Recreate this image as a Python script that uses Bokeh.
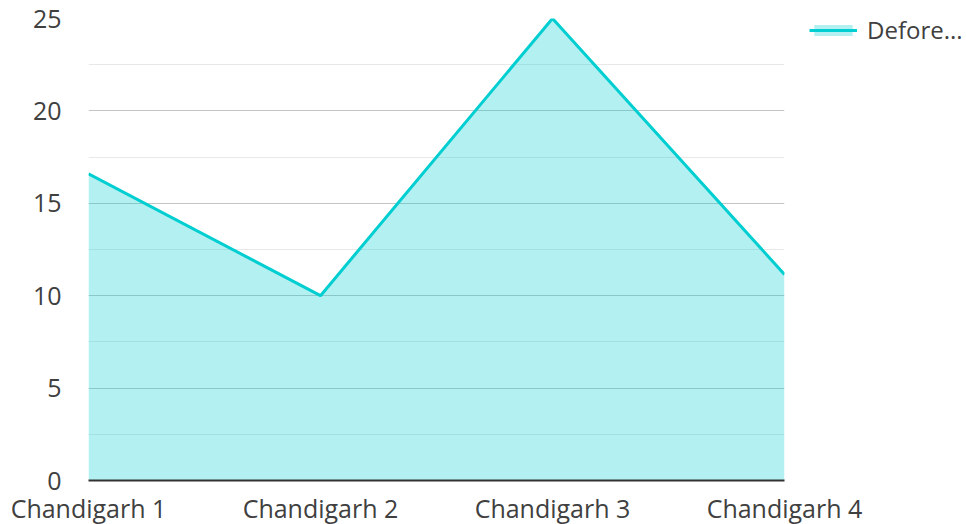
from bokeh.plotting import figure
from bokeh.models import ColumnDataSource, Legend, LegendItem, FixedTicker, Range1d
from bokeh.embed import file_html
from bokeh.resources import INLINE

categories = ["Chandigarh 1", "Chandigarh 2", "Chandigarh 3", "Chandigarh 4"]
values = [16.6, 10.0, 25.0, 11.15]
series_name = "Defore..."
y_ticks = [0, 5, 10, 15, 20, 25]
y_minor = [2.5, 7.5, 12.5, 17.5, 22.5]

xs = list(range(len(categories)))
src = ColumnDataSource(dict(x=xs, y=values, y0=[0] * len(xs)))

FONT = "Open Sans"
TXT = "#404040"
FS = "25px"

p = figure(frame_width=696, frame_height=462, min_border_left=88, min_border_top=18,
           min_border_bottom=44, min_border_right=180,
           output_backend="svg", toolbar_location=None,
           x_range=Range1d(0, len(categories) - 1), y_range=Range1d(0, 25))
p.outline_line_color = None

area = p.varea(x="x", y1="y0", y2="y", source=src, fill_color="#00CED1", fill_alpha=0.3)
line = p.line(x="x", y="y", source=src, line_color="#00CED1", line_width=3)

p.xgrid.visible = False
p.ygrid.ticker = FixedTicker(ticks=y_ticks, minor_ticks=y_minor)
p.ygrid.grid_line_color = "#c4c4c4"
p.ygrid.grid_line_width = 1
p.ygrid.minor_grid_line_color = "#e8e8e8"
p.ygrid.minor_grid_line_width = 1

p.yaxis.ticker = FixedTicker(ticks=y_ticks)
p.yaxis.axis_line_color = None
p.yaxis.major_tick_line_color = None
p.yaxis.minor_tick_line_color = None
p.yaxis.major_label_standoff = 21
p.yaxis.major_label_text_font = FONT
p.yaxis.major_label_text_font_size = FS
p.yaxis.major_label_text_color = TXT

p.xaxis.ticker = FixedTicker(ticks=xs)
p.xaxis.major_label_overrides = {i: c for i, c in enumerate(categories)}
p.xaxis.axis_line_color = "#333333"
p.xaxis.axis_line_width = 2
p.xaxis.major_tick_line_color = None
p.xaxis.minor_tick_line_color = None
p.xaxis.major_label_standoff = 4
p.xaxis.major_label_text_font = FONT
p.xaxis.major_label_text_font_size = FS
p.xaxis.major_label_text_color = TXT

legend = Legend(items=[LegendItem(label=series_name, renderers=[area, line])],
                location=(25, 434), padding=0, margin=0, border_line_color=None,
                background_fill_alpha=0, glyph_width=48, glyph_height=14,
                label_text_font=FONT, label_text_font_size="24px",
                label_text_color=TXT, label_standoff=10)
p.add_layout(legend, "right")

open("out.html", "w").write(file_html(p, INLINE))
